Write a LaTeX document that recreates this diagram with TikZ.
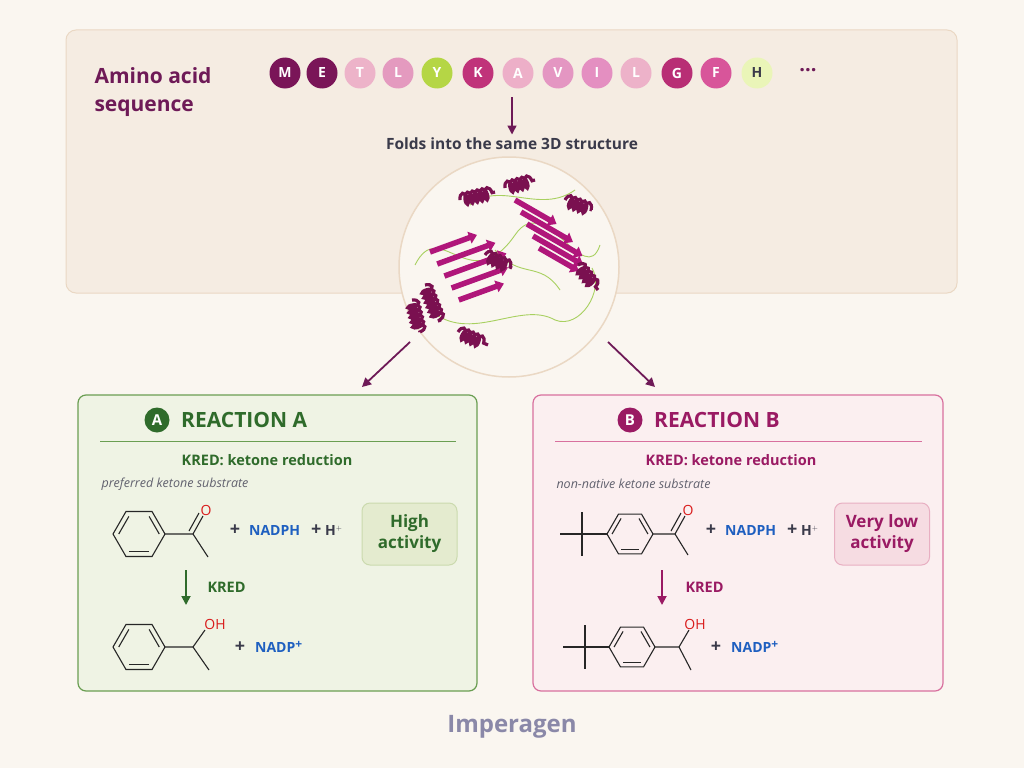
\documentclass[tikz,border=0pt]{standalone}
\usepackage{fontspec}
\setmainfont{Open Sans}
\usetikzlibrary{arrows.meta,positioning,decorations.pathmorphing,calc}
\definecolor{bgc}{HTML}{FAF6F0}
\definecolor{topf}{HTML}{F5ECE2}
\definecolor{topd}{HTML}{EAD8C4}
\definecolor{plum}{HTML}{6E1A57}
\definecolor{grn}{HTML}{2F6B2B}
\definecolor{grnf}{HTML}{EFF3E4}
\definecolor{grnd}{HTML}{6A9E52}
\definecolor{grnbf}{HTML}{E4EBCF}
\definecolor{grnbd}{HTML}{CBDAAE}
\definecolor{mag}{HTML}{9A1A63}
\definecolor{magf}{HTML}{FBEFF0}
\definecolor{magd}{HTML}{D8709E}
\definecolor{magbf}{HTML}{F6DCE2}
\definecolor{magbd}{HTML}{E8AFC2}
\definecolor{nadc}{HTML}{1E5FC0}
\definecolor{oxc}{HTML}{D91A1A}
\definecolor{ink}{HTML}{3A3A4A}
\definecolor{prot}{HTML}{B0167A}
\definecolor{protd}{HTML}{7A1050}
\definecolor{loopc}{HTML}{A8D060}
\definecolor{hcol}{HTML}{EAF5B8}
\definecolor{brandc}{HTML}{8A88A8}
% hexagon ring with alternating inner bonds: centre x, centre y, radius
\newcommand{\ringat}[3]{%
  \draw[bond] (#1+#3,#2) \foreach \a in {60,120,...,360} { -- ++(\a+60:#3) };
  \foreach \a in {60,180,300}
    \draw[bond] ($(#1,#2)+(\a:#3*0.78)$) -- ($(#1,#2)+(\a+60:#3*0.78)$);}
\begin{document}
\begin{tikzpicture}[x=1pt,y=-1pt,
  bond/.style={line width=1.1pt,black!85},
  aa/.style={circle,minimum size=31pt,inner sep=0pt,text=white,font=\fontsize{14}{14}\selectfont\bfseries},
  head/.style={font=\fontsize{21}{21}\selectfont\bfseries,anchor=west},
  sub/.style={font=\fontsize{14.5}{14.5}\selectfont\bfseries},
  note/.style={font=\fontsize{12.5}{12.5}\selectfont\itshape,text=ink!80,anchor=west},
  plus/.style={font=\fontsize{18}{18}\selectfont\bfseries,text=ink},
  hplus/.style={font=\fontsize{14}{14}\selectfont\bfseries,text=ink},
  nad/.style={font=\fontsize{14}{14}\selectfont\bfseries,text=nadc},
  atom/.style={font=\fontsize{14}{14}\selectfont,text=oxc,inner sep=1pt},
  badge/.style={rounded corners=8pt,minimum width=95pt,minimum height=62pt,align=center,
    font=\fontsize{17}{21}\selectfont\bfseries,line width=1pt},
  flow/.style={-{Triangle[length=9pt,width=9pt]},line width=1.8pt},
  strand/.style={prot,line width=5.5pt,-{Triangle[length=8pt,width=12pt]}},
  helix/.style={protd,line width=3.2pt,decorate,decoration={coil,aspect=0.45,segment length=5pt,amplitude=6pt}}]

\fill[bgc] (0,0) rectangle (1024,768);
\useasboundingbox (0,0) rectangle (1024,768);

% sequence panel
\draw[fill=topf,draw=topd,line width=1pt,rounded corners=10pt] (66,30) rectangle (957,293);
\node[anchor=west,align=left,text=plum,font=\fontsize{21}{28}\selectfont\bfseries] (seq) at (91,92) {Amino acid\\sequence};
\foreach \x/\l/\c [count=\i] in {285/M/7A1558,322/E/7A1558,360/T/EDB3C9,398/L/E49ABF,437/Y/B5D645,
    478/K/C0337A,518/A/EDAFC8,558/V/E496C2,597/I/E48FC1,636/L/EDB2C9,677/G/B82E75,716/F/D8559A}{
  \definecolor{aac}{HTML}{\c}
  \node[aa,fill=aac] (r\i) at (\x,73) {\l};}
\node[aa,fill=hcol,text=ink] (r13) at (757,73) {H};
\node[text=plum,font=\fontsize{20}{20}\selectfont\bfseries] (dots) at (808,70) {...};

\coordinate (fs) at (512,97);
\node[text=ink,font=\fontsize{15.5}{15.5}\selectfont\bfseries] (fold) at (512,144) {Folds into the same 3D structure};
\draw[flow,plum,line width=1.5pt] (fs) -- (fold.north);

% protein
\node[circle,minimum size=220pt,fill=bgc,draw=topd,line width=1.5pt] (prot) at (509,267) {};
\begin{scope}[line width=0.9pt,loopc]
  \draw (415,265) .. controls (440,215) and (470,300) .. (515,235)
     .. controls (545,190) and (585,290) .. (600,245);
  \draw (430,310) .. controls (470,345) and (520,300) .. (555,320)
     .. controls (580,330) and (605,290) .. (592,268);
  \draw (470,205) .. controls (500,180) and (540,215) .. (575,190);
  \draw (495,250) .. controls (520,280) and (540,260) .. (560,290);
\end{scope}
% left sheet
\foreach \d/\l in {0/50,12/62,24/66,36/60,48/48}
  \draw[strand] ($(430,252)+(\d*0.6,\d)$) -- ++(-20:\l);
% right sheet
\foreach \d/\l in {0/48,12/60,24/64,36/58,48/46}
  \draw[strand] ($(515,200)+(\d*0.5,\d)$) -- ++(30:\l);
\foreach \sx/\sy/\ex/\ey in {460/200/495/192,425/285/440/322,505/188/535/180,
    578/265/598/290,485/255/512/268,458/332/488/345,565/200/592/210,412/300/420/332}
  \draw[helix] (\sx,\sy) -- (\ex,\ey);

\coordinate (pa) at (410,342);
\coordinate (pb) at (608,342);

% reaction A
\node[draw=grnd,fill=grnf,line width=1.2pt,rounded corners=8pt,minimum width=399pt,minimum height=296pt] (boxA) at (277.5,543) {};
\node[circle,fill=grn,text=white,minimum size=25pt,inner sep=0pt,font=\fontsize{15}{15}\selectfont\bfseries] (cA) at (157,420) {A};
\node[head,text=grn,right=8pt of cA] (hA) {REACTION A};
\draw[grnd,line width=0.8pt] (100,441) -- (456,441);
\node[sub,text=grn] (kA) at (267,460) {KRED: ketone reduction};
\node[note] (nA) at (98,484) {preferred ketone substrate};
\ringat{139}{534}{26}
\draw[bond] (165,534) -- (193,534) -- (208,557);
\draw[bond] (193,534) -- (203,516); \draw[bond] (189,531) -- (199,513);
\node[atom] (oA) at (206,510) {O};
\node[plus] (pA1) at (235,530) {+};
\node[nad,right=2pt of pA1] (nadA) {NADPH};
\node[hplus,right=4pt of nadA] (pA2) {{\fontsize{18}{18}\selectfont +} H$^{\scriptscriptstyle +}$};
\node[badge,fill=grnbf,draw=grnbd,text=grn] (actA) at (409.5,534) {High\\activity};
\coordinate (aA1) at (186,570);
\coordinate (aA2) at (186,605);
\draw[flow,grn] (aA1) -- (aA2);
\node[sub,text=grn,anchor=west] (kredA) at (204,587) {KRED};
\ringat{139}{647}{26}
\draw[bond] (165,647) -- (193,647) -- (209,670);
\draw[bond] (193,647) -- (205,630);
\node[atom] (ohA) at (215,624) {OH};
\node[plus] (pA3) at (240,647) {+};
\node[nad,right=3pt of pA3] (nadpA) {NADP\raisebox{0.5ex}{\fontsize{12}{12}\selectfont +}};

% reaction B
\node[draw=magd,fill=magf,line width=1.2pt,rounded corners=8pt,minimum width=410pt,minimum height=296pt] (boxB) at (738,543) {};
\node[circle,fill=mag,text=white,minimum size=25pt,inner sep=0pt,font=\fontsize{15}{15}\selectfont\bfseries] (cB) at (630,420) {B};
\node[head,text=mag,right=8pt of cB] (hB) {REACTION B};
\draw[magd,line width=0.8pt] (555,441) -- (922,441);
\node[sub,text=mag] (kB) at (731,460) {KRED: ketone reduction};
\node[note] (nB) at (553,484) {non-native ketone substrate};
\ringat{630}{534}{23}
\draw[bond] (560,534) -- (607,534);
\draw[bond] (582,512) -- (582,556);
\draw[bond] (653,534) -- (675,534) -- (688,555);
\draw[bond] (675,534) -- (685,516); \draw[bond] (671,531) -- (681,513);
\node[atom] (oB) at (688,510) {O};
\node[plus] (pB1) at (711,530) {+};
\node[nad,right=2pt of pB1] (nadB) {NADPH};
\node[hplus,right=4pt of nadB] (pB2) {{\fontsize{18}{18}\selectfont +} H$^{\scriptscriptstyle +}$};
\node[badge,fill=magbf,draw=magbd,text=mag] (actB) at (882,534) {Very low\\activity};
\coordinate (aB1) at (662,570);
\coordinate (aB2) at (662,605);
\draw[flow,mag] (aB1) -- (aB2);
\node[sub,text=mag,anchor=west] (kredB) at (682,587) {KRED};
\ringat{632}{647}{23}
\draw[bond] (563,647) -- (609,647);
\draw[bond] (585,625) -- (585,669);
\draw[bond] (655,647) -- (679,647) -- (691,670);
\draw[bond] (679,647) -- (689,630);
\node[atom] (ohB) at (695,624) {OH};
\node[plus] (pB3) at (716,647) {+};
\node[nad,right=3pt of pB3] (nadpB) {NADP\raisebox{0.5ex}{\fontsize{12}{12}\selectfont +}};

% branching arrows
\coordinate (ta) at (362,387);
\coordinate (tb) at (655,387);
\draw[flow,plum] (pa) -- (ta);
\draw[flow,plum] (pb) -- (tb);

\node[text=brandc,font=\fontsize{24}{24}\selectfont\bfseries] (brand) at (512,727) {Imperagen};
\end{tikzpicture}
\end{document}
